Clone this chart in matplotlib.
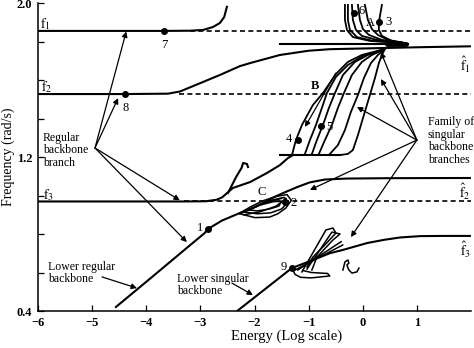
import matplotlib
matplotlib.use('Agg')
import matplotlib.pyplot as plt

plt.rcParams['font.family'] = ['Liberation Serif', 'DejaVu Serif']
plt.rcParams['mathtext.fontset'] = 'stix'

# 선형 고유진동수 (rad/s)
f1_level, f2_level, f3_level = 1.855, 1.527, 0.969

# regular backbone branches
f1_E = [-6, -3.67, -3.2, -2.95, -2.77, -2.64, -2.56, -2.51]
f1_F = [1.855, 1.855, 1.856, 1.860, 1.875, 1.896, 1.927, 1.98]

f2_E = [-6, -4.39, -3.6, -3.38, -3.0, -2.64, -2.27, -2.08, -1.53, -1.0, -0.61, 0.37, 1.0, 1.98]
f2_F = [1.527, 1.527, 1.529, 1.540, 1.584, 1.626, 1.672, 1.688, 1.730, 1.752, 1.760, 1.766, 1.770, 1.775]

f3_E = [-6, -3.3, -2.9, -2.7, -2.6, -2.546, -2.40, -2.08, -1.77, -1.53, -1.38, -1.29]
f3_F = [0.969, 0.969, 0.970, 0.978, 0.990, 1.003, 1.039, 1.070, 1.117, 1.158, 1.195, 1.210]

hook_E = [-2.49, -2.34, -2.24, -2.21, -2.14, -2.12]
hook_F = [1.013, 1.096, 1.143, 1.169, 1.164, 1.148]

lowreg_E = [-4.56, -3.9, -3.25, -2.92, -2.86, -2.6, -2.27, -2.03, -1.85, -1.65, -1.47, -1.2, -0.98, -0.7, -0.3, 0.5, 1.98]
lowreg_F = [0.421, 0.575, 0.728, 0.805, 0.826, 0.87, 0.909, 0.935, 0.96, 0.99, 1.013, 1.045, 1.068, 1.083, 1.088, 1.090, 1.091]

# lower singular backbone and f3-hat branch
lowsing_E = [-2.32, -1.31]
lowsing_F = [0.40, 0.623]
f3hat_E = [-1.31, -0.92, -0.61, -0.37, 0.08, 0.4, 0.69, 1.06, 1.5, 1.98]
f3hat_F = [0.623, 0.665, 0.700, 0.717, 0.753, 0.770, 0.782, 0.789, 0.790, 0.790]

# family of singular branches (B)
fam_base_E = [-1.53, -0.42]
fam_base_F = [1.210, 1.210]
fam_E = [
    [-1.308, -1.235, -1.124, -0.921, -0.736, -0.496, -0.274, -0.016, 0.409],
    [-1.068, -0.976, -0.865, -0.755, -0.662, -0.496, -0.274, 0.003, 0.409],
    [-0.939, -0.847, -0.736, -0.625, -0.514, -0.366, -0.145, 0.095, 0.409],
    [-0.810, -0.699, -0.570, -0.459, -0.348, -0.200, -0.016, 0.169, 0.409],
    [-0.607, -0.459, -0.329, -0.219, -0.089, 0.021, 0.151, 0.280, 0.409],
    [-0.422, -0.274, -0.182, -0.089, 0.021, 0.132, 0.225, 0.298, 0.354, 0.409],
]
fam_F = [
    [1.210, 1.288, 1.366, 1.470, 1.532, 1.631, 1.694, 1.730, 1.761],
    [1.216, 1.288, 1.366, 1.455, 1.532, 1.616, 1.678, 1.725, 1.761],
    [1.216, 1.288, 1.366, 1.455, 1.532, 1.626, 1.694, 1.730, 1.761],
    [1.216, 1.288, 1.366, 1.455, 1.532, 1.626, 1.694, 1.730, 1.761],
    [1.216, 1.262, 1.340, 1.434, 1.522, 1.610, 1.688, 1.730, 1.761],
    [1.210, 1.216, 1.236, 1.314, 1.418, 1.522, 1.610, 1.688, 1.730, 1.761],
]

# top cluster (A)
top_E = [
    [-0.329, -0.329, -0.292, -0.182, 0.132, 0.779],
    [-0.274, -0.274, -0.237, -0.108, 0.188, 0.779],
    [-0.200, -0.182, -0.126, -0.016, 0.262, 0.779],
    [-0.089, -0.052, 0.003, 0.114, 0.354, 0.779],
    [0.040, 0.095, 0.169, 0.280, 0.465, 0.779],
    [0.354, 0.298, 0.298, 0.354, 0.539, 0.779],
]
top_F = [
    [1.990, 1.912, 1.860, 1.823, 1.803, 1.792],
    [1.990, 1.912, 1.860, 1.823, 1.803, 1.792],
    [1.990, 1.912, 1.860, 1.829, 1.808, 1.792],
    [1.990, 1.912, 1.865, 1.834, 1.808, 1.792],
    [1.990, 1.912, 1.865, 1.834, 1.808, 1.792],
    [1.990, 1.901, 1.860, 1.829, 1.803, 1.792],
]
topline_E = [-1.53, 0.83]
topline_F = [1.787, 1.787]
blob_E = [0.45, 0.80]
blob_F = [1.789, 1.789]

# loops near C
C_E = [
    [-2.27, -2.08, -1.85, -1.60, -1.40, -1.32, -1.42, -1.57, -1.72, -1.99, -2.27],
    [-2.20, -1.95, -1.70, -1.45, -1.38, -1.50, -1.70, -1.95, -2.20],
    [-2.10, -1.90, -1.65, -1.50, -1.55, -1.72, -1.95, -2.10],
    [-2.27, -1.85, -1.50],
    [-2.20, -1.90, -1.60, -1.42],
]
C_F = [
    [0.909, 0.940, 0.972, 0.995, 1.005, 0.975, 0.935, 0.905, 0.888, 0.885, 0.905],
    [0.915, 0.945, 0.975, 0.990, 0.965, 0.930, 0.910, 0.905, 0.915],
    [0.925, 0.950, 0.968, 0.970, 0.945, 0.930, 0.920, 0.925],
    [0.905, 0.960, 0.985],
    [0.900, 0.915, 0.945, 0.985],
]

# loops near 9
L9_E = [
    [-1.124, -0.68, -0.551, -0.496, -0.70, -0.921, -1.03],
    [-1.03, -0.57, -0.42, -0.55, -0.847, -0.94],
    [-1.25, -0.37],
    [-1.20, -0.40],
    [-1.31, -1.25, -1.15, -0.95, -0.61, -0.65, -0.95, -1.10],
    [-0.366, -0.329, -0.274, -0.256, -0.293, -0.256, -0.20, -0.108, -0.07],
]
L9_F = [
    [0.603, 0.821, 0.831, 0.805, 0.743, 0.680, 0.629],
    [0.618, 0.810, 0.800, 0.769, 0.680, 0.613],
    [0.613, 0.743],
    [0.613, 0.760],
    [0.623, 0.590, 0.575, 0.572, 0.582, 0.595, 0.600, 0.610],
    [0.613, 0.655, 0.665, 0.649, 0.639, 0.613, 0.597, 0.603, 0.623],
]

# numbered points
pt_E = [-2.86, -1.44, 0.298, -1.198, -0.773, -0.16, -3.673, -4.393, -1.31]
pt_F = [0.826, 0.966, 1.901, 1.288, 1.361, 1.948, 1.855, 1.527, 0.623]
pt_lab = ['1', '2', '3', '4', '5', '6', '7', '8', '9']
lab_E = [-3.0, -1.27, 0.47, -1.37, -0.61, -0.03, -3.67, -4.39, -1.46]
lab_F = [0.832, 0.960, 1.901, 1.294, 1.356, 1.958, 1.782, 1.455, 0.629]

fig = plt.figure(figsize=(4.74, 3.48), dpi=100)
ax = fig.add_axes([38 / 474, 1 - 311 / 348, 433 / 474, 308 / 348])

lw = 1.5
dash = (0, (3, 2))
ax.axhline(f1_level, xmin=(-3.2 + 6) / 8, color='k', lw=1.2, ls=dash)
ax.axhline(f2_level, xmin=(-3.4 + 6) / 8, color='k', lw=1.2, ls=dash)
ax.axhline(f3_level, xmin=(-3.3 + 6) / 8, color='k', lw=1.2, ls=dash)

for E, F in [(f1_E, f1_F), (f2_E, f2_F), (f3_E, f3_F), (hook_E, hook_F),
             (lowreg_E, lowreg_F), (lowsing_E, lowsing_F), (f3hat_E, f3hat_F),
             (fam_base_E, fam_base_F), (topline_E, topline_F)]:
    ax.plot(E, F, color='k', lw=lw)
ax.plot(blob_E, blob_F, color='k', lw=3.5, solid_capstyle='round')
for E, F in zip(fam_E, fam_F):
    ax.plot(E, F, color='k', lw=1.3)
for E, F in zip(top_E, top_F):
    ax.plot(E, F, color='k', lw=1.3)
for E, F in zip(C_E, C_F):
    ax.plot(E, F, color='k', lw=1.1)
for E, F in zip(L9_E, L9_F):
    ax.plot(E, F, color='k', lw=1.1)

ax.plot(pt_E, pt_F, 'o', color='k', ms=4)
for s, x, y in zip(pt_lab, lab_E, lab_F):
    ax.text(x, y, s, ha='center', va='center', fontsize=9)
ax.text(0.132, 1.896, 'A', ha='center', va='center', fontsize=9)
ax.text(-0.884, 1.569, 'B', ha='center', va='center', fontsize=9, fontweight='bold')
ax.text(-1.863, 1.018, 'C', ha='center', va='center', fontsize=9)

# frequency labels
ax.text(-5.86, 1.89, r'$\mathrm{f}_1$', fontsize=10, ha='center', va='center')
ax.text(-5.84, 1.565, r'$\mathrm{f}_2$', fontsize=10, ha='center', va='center')
ax.text(-5.80, 1.00, r'$\mathrm{f}_3$', fontsize=10, ha='center', va='center')
ax.text(1.89, 1.678, r'$\hat{\mathrm{f}}_1$', fontsize=10, ha='center', va='center')
ax.text(1.89, 1.018, r'$\hat{\mathrm{f}}_2$', fontsize=10, ha='center', va='center')
ax.text(1.89, 0.717, r'$\hat{\mathrm{f}}_3$', fontsize=10, ha='center', va='center')

# annotations
arr = dict(arrowstyle='-|>', color='k', lw=0.9, mutation_scale=8, shrinkA=0, shrinkB=0)
for tx, ty in [(-4.37, 1.852), (-4.52, 1.506), (-3.38, 0.975), (-3.25, 0.758)]:
    ax.annotate('', xy=(tx, ty), xytext=(-4.947, 1.247), arrowprops=arr)
for tx, ty in [(0.335, 1.745), (0.335, 1.605), (-0.108, 1.460), (-0.976, 1.029), (-0.219, 0.784)]:
    ax.annotate('', xy=(tx, ty), xytext=(1.0, 1.288), arrowprops=arr)
ax.annotate('', xy=(-4.171, 0.519), xytext=(-4.818, 0.577), arrowprops=arr)
ax.annotate('', xy=(-2.029, 0.483), xytext=(-2.417, 0.545), arrowprops=arr)
ax.annotate('', xy=(-1.068, 1.356), xytext=(-0.496, 1.636), arrowprops=arr)

txt = dict(fontsize=8.5, ha='left', va='center', linespacing=1.05)
ax.text(-5.91, 1.236, 'Regular\nbackbone\nbranch', **txt)
ax.text(-5.815, 0.597, 'Lower regular\nbackbone', **txt)
ax.text(-3.43, 0.535, 'Lower singular\nbackbone', **txt)
ax.text(1.20, 1.283, 'Family of\nsingular\nbackbone\nbranches', **txt)

ax.set_xlim(-6, 2)
ax.set_ylim(0.4, 2.0)
ax.set_xticks(range(-6, 2))
ax.set_yticks([0.4, 0.6, 0.8, 1.0, 1.2, 1.4, 1.6, 1.8, 2.0])
ax.set_yticklabels(['0.4', '', '', '', '1.2', '', '', '', '2.0'])
ax.tick_params(direction='in', length=4, width=0.9, labelsize=9, pad=4)
for lab in ax.get_xticklabels() + ax.get_yticklabels():
    lab.set_fontweight('bold')
for s in ['top', 'right']:
    ax.spines[s].set_visible(False)
for s in ['left', 'bottom']:
    ax.spines[s].set_linewidth(1.1)

fig.text(287 / 474, 1 - 336 / 348, 'Energy (Log scale)', ha='center', va='center', fontsize=10.5)
fig.text(8 / 474, 1 - 157 / 348, 'Frequency (rad/s)', ha='center', va='center', fontsize=10, rotation=90)

fig.savefig('out.png', dpi=100)
